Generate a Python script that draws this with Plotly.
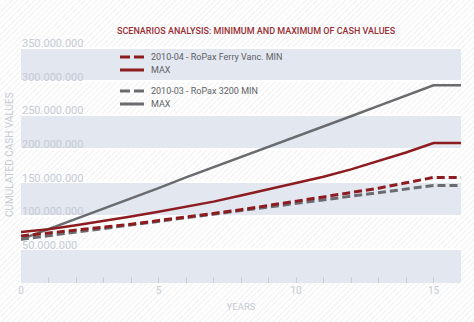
import base64
import plotly.graph_objects as go

# ---------------- data ----------------
years = list(range(0, 17))
x_tick_vals = list(range(0, 16))
x_tick_text = ["0", "", "", "", "", "5", "", "", "", "", "10", "", "", "", "", "15"]
y_tick_vals = [50e6, 100e6, 150e6, 200e6, 250e6, 300e6, 350e6]
y_tick_text = ["50.000.000", "100.000.000", "150.000.000", "200.000.000",
               "250.000.000", "300.000.000", "350.000.000"]

# values in millions
ferry_min = [70, 74, 78.5, 83, 87.5, 92.5, 98, 103.5, 109, 115, 121.5, 128, 134.5, 141, 149, 157, 157]
ferry_max = [76, 80, 86, 92, 99, 106, 113, 121, 130, 139, 148, 158, 169, 181, 194, 208, 208]
ropax_min = [65, 70.3, 75.7, 81, 86.3, 91.7, 97, 102.3, 107.7, 113, 118.3, 123.7, 129, 134.3, 139.7, 145, 145]
ropax_max = [65, 80, 95.5, 111, 126, 141, 157, 172, 187, 202.5, 218, 233, 248, 263.5, 279, 294, 294]

series_names = ["2010-04 - RoPax Ferry Vanc. MIN", "MAX", "2010-03 - RoPax 3200 MIN", "MAX"]
series_values = [ferry_min, ferry_max, ropax_min, ropax_max]

title_text = "SCENARIOS ANALYSIS: MINIMUM AND MAXIMUM OF CASH VALUES"
x_title = "YEARS"
y_title = "CUMULATED CASH VALUES"

# ---------------- style ----------------
W, H = 474, 322
ML, MR, MT, MB = 21, 13, 14, 39
PW, PH = W - ML - MR, H - MT - MB

RED = "#8c1c20"
GRAY = "#6a6b6f"
styles = [
    dict(color=RED, dash="8px,4px", width=3),
    dict(color=RED, dash="solid", width=2.5),
    dict(color=GRAY, dash="8px,4px", width=3),
    dict(color=GRAY, dash="solid", width=2.5),
]
LABEL = "#c6cbd6"
BAND_DARK = "#e3e7f0"
BAND_LIGHT = "#eef0f5"


def px_x(x):
    return (x - ML) / PW


def px_y(y):
    return 1 - (y - MT) / PH


fig = go.Figure()

# draw gray series first, red on top
for i in [2, 3, 0, 1]:
    fig.add_trace(go.Scatter(
        x=years,
        y=[v * 1e6 for v in series_values[i]],
        mode="lines",
        name=series_names[i],
        line=dict(color=styles[i]["color"], dash=styles[i]["dash"], width=styles[i]["width"]),
        showlegend=False,
        hoverinfo="skip",
    ))

# alternating bands
shapes = []
for k in range(0, 8, 2):
    shapes.append(dict(type="rect", xref="x domain", yref="y", x0=0, x1=1,
                       y0=k * 50e6, y1=(k + 1) * 50e6, fillcolor=BAND_DARK,
                       line=dict(width=0), layer="below"))

annotations = []

# y tick labels, placed inside the plot just above each gridline
for v, t in zip(y_tick_vals, y_tick_text):
    annotations.append(dict(text=t, xref="paper", yref="y", x=0, y=v,
                            xanchor="left", yanchor="middle", yshift=4, xshift=-1,
                            showarrow=False,
                            font=dict(family="Roboto", size=11, color=LABEL)))

# manual legend
legend_rows = [57, 70, 91, 104]
for i, yy in enumerate(legend_rows):
    st = styles[i]
    shapes.append(dict(type="line", xref="paper", yref="paper",
                       x0=px_x(120), x1=px_x(144), y0=px_y(yy), y1=px_y(yy),
                       line=dict(color=st["color"], width=3,
                                 dash="10px,4px" if st["dash"] != "solid" else "solid"),
                       layer="above"))
    annotations.append(dict(text=series_names[i], xref="paper", yref="paper",
                            x=px_x(149), y=px_y(yy), xanchor="left", yanchor="middle",
                            showarrow=False,
                            font=dict(family="Roboto", size=9, color="#606165")))

annotations.append(dict(text=title_text, xref="paper", yref="paper",
                        x=px_x(256.5), y=px_y(31), xanchor="center", yanchor="middle",
                        showarrow=False,
                        font=dict(family="Roboto", size=9, color="#9a2e33", weight=500)))

annotations.append(dict(text=y_title, xref="paper", yref="paper",
                        x=px_x(9), y=px_y(155), xanchor="center", yanchor="middle",
                        textangle=-90, showarrow=False,
                        font=dict(family="Roboto", size=10, color=LABEL)))

# hatched page background
svg = ('<svg xmlns="http://www.w3.org/2000/svg" width="474" height="322">'
       '<defs><pattern id="p" width="4" height="4" patternUnits="userSpaceOnUse" '
       'patternTransform="rotate(45)"><rect width="4" height="4" fill="#ffffff"/>'
       '<line x1="0" y1="0" x2="0" y2="4" stroke="#e6e6e6" stroke-width="1.2"/></pattern></defs>'
       '<rect width="100%" height="100%" fill="url(#p)"/></svg>')
img_src = "data:image/svg+xml;base64," + base64.b64encode(svg.encode()).decode()

fig.update_layout(
    width=W, height=H,
    margin=dict(l=ML, r=MR, t=MT, b=MB, pad=0),
    paper_bgcolor="#f6f6f6",
    plot_bgcolor=BAND_LIGHT,
    showlegend=False,
    shapes=shapes,
    annotations=annotations,
    images=[dict(source=img_src, xref="paper", yref="paper",
                 x=-ML / PW, y=1 + MT / PH, sizex=W / PW, sizey=H / PH,
                 xanchor="left", yanchor="top", sizing="stretch", layer="below")],
    font=dict(family="Roboto"),
)

fig.update_xaxes(
    range=[0, 16], tickvals=x_tick_vals, ticktext=x_tick_text,
    ticks="inside", ticklen=6, tickcolor="#c9cdd6", tickwidth=1,
    showgrid=False, zeroline=False, showline=False,
    ticklabelstandoff=0,
    tickfont=dict(family="Roboto", size=10, color=LABEL),
    title=dict(text=x_title, font=dict(family="Roboto", size=9.5, color=LABEL), standoff=8),
)
fig.update_yaxes(
    range=[0, 400e6], tickvals=y_tick_vals, showticklabels=False,
    ticks="", showgrid=True, gridcolor="#ffffff", gridwidth=2,
    zeroline=False, showline=False,
)

fig.write_html("out.html")
